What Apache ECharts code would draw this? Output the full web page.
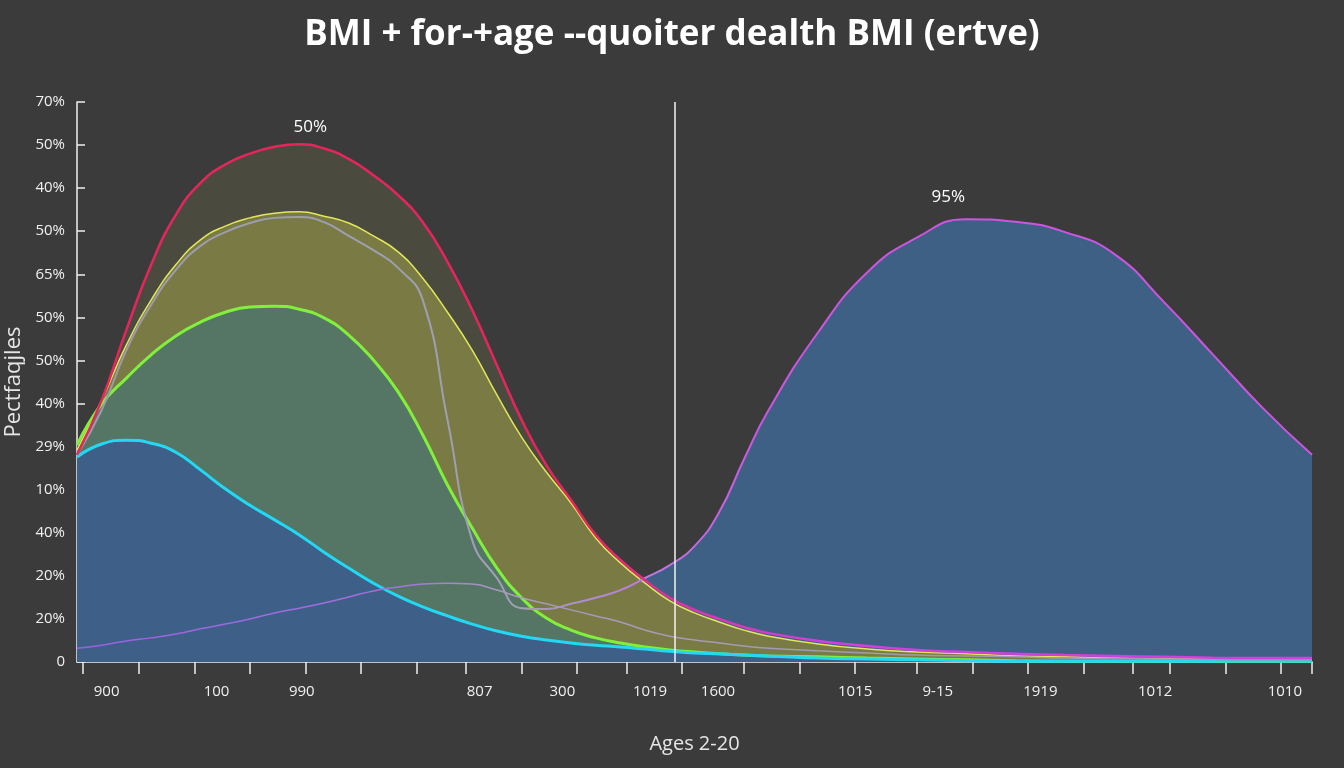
<!DOCTYPE html>
<html>
<head>
<meta charset="utf-8">
<title>BMI chart</title>
<script src="https://cdn.jsdelivr.net/npm/echarts@6/dist/echarts.min.js"></script>
<style>
  html, body { margin: 0; padding: 0; background: #3b3b3b; }
  #chart { width: 1344px; height: 768px; }
</style>
</head>
<body>
<div id="chart"></div>
<script>
// x positions (axis units 0-100) shared by every curve
const ages = [0, 2, 4, 6, 8, 10, 12, 14, 16, 18, 20, 22, 24, 26, 28, 30, 32, 34, 36, 38, 40,
  42, 44, 46, 48, 50, 52, 54, 56, 60, 64, 68, 72, 76, 80, 84, 88, 92, 96, 100];

// curve values (y units, one unit per tick)
const redVals = [4.81, 6.08, 7.71, 9.22, 10.38, 11.12, 11.55, 11.80, 11.96, 12.02, 11.92, 11.68, 11.30, 10.84, 10.21, 9.29, 8.17, 6.89, 5.62, 4.57, 3.76,
  2.95, 2.37, 1.90, 1.49, 1.21, 1.00, 0.81, 0.67, 0.49, 0.37, 0.28, 0.23, 0.19, 0.16, 0.14, 0.12, 0.10, 0.09, 0.09];
const yellowVals = [4.92, 6.08, 7.36, 8.40, 9.22, 9.80, 10.12, 10.31, 10.42, 10.45, 10.35, 10.19, 9.89, 9.52, 8.91, 8.12, 7.24, 6.20, 5.22, 4.41, 3.69,
  2.88, 2.30, 1.83, 1.42, 1.14, 0.93, 0.74, 0.60, 0.42, 0.30, 0.23, 0.19, 0.14, 0.12, 0.09, 0.08, 0.07, 0.06, 0.05];
const greenVals = [5.04, 5.99, 6.59, 7.13, 7.57, 7.89, 8.12, 8.24, 8.26, 8.19, 7.99, 7.59, 7.01, 6.27, 5.27, 4.11, 3.11, 2.18, 1.49, 1.02, 0.74,
  0.56, 0.44, 0.35, 0.28, 0.23, 0.19, 0.16, 0.14, 0.12, 0.09, 0.07, 0.05, 0.03, 0.02, 0.02, 0.02, 0.02, 0.02, 0.02];
const cyanVals = [4.76, 5.06, 5.15, 5.08, 4.87, 4.46, 4.02, 3.64, 3.30, 2.95, 2.55, 2.18, 1.83, 1.53, 1.28, 1.07, 0.88, 0.72, 0.60, 0.51, 0.44,
  0.39, 0.35, 0.30, 0.25, 0.21, 0.19, 0.16, 0.14, 0.09, 0.07, 0.05, 0.03, 0.02, 0.02, 0.02, 0.02, 0.02, 0.02, 0.02];
const bellVals = [4.81, 5.85, 7.24, 8.29, 9.10, 9.66, 9.98, 10.19, 10.31, 10.33, 10.21, 9.89, 9.56, 9.15, 8.40, 5.62, 2.83, 1.95, 1.25, 1.23, 1.35,
  1.49, 1.67, 1.95, 2.25, 2.69, 3.48, 4.70, 5.85, 7.65, 9.05, 9.85, 10.28, 10.22, 9.98, 9.47, 8.36, 7.13, 5.90, 4.81];
const purpleVals = [0.32, 0.39, 0.49, 0.56, 0.65, 0.77, 0.88, 1.00, 1.14, 1.25, 1.37, 1.51, 1.65, 1.74, 1.81, 1.83, 1.81, 1.67, 1.49, 1.35, 1.21,
  1.07, 0.93, 0.74, 0.60, 0.51, 0.44, 0.37, 0.32, 0.26, 0.21, 0.16, 0.14, 0.12, 0.09, 0.08, 0.07, 0.06, 0.05, 0.05];

// axis labels
const yTickLabels = ['0', '20%', '20%', '40%', '10%', '29%', '40%', '50%', '50%', '65%', '50%', '40%', '50%', '70%'];
const xLabels = ['900', '100', '990', '807', '300', '1019', '1600', '1015', '9-15', '1919', '1012', '1010'];
const xLabelAt = [2.4, 11.3, 18.2, 32.6, 39.3, 46.4, 51.9, 63.0, 69.7, 78.0, 87.3, 97.8];
const xTickAt = [0.5, 5, 9.5, 14, 18.5, 23, 27.5, 31.5, 36, 40.5, 44.5, 49, 54, 58.5, 63, 68, 72.5,
  77, 81.5, 85.5, 88.5, 93, 97.5, 100];
const dividerAt = 48.4;
const peakLabels = ['50%', '95%'];

const pairs = (vals) => ages.map((a, i) => [a, vals[i]]);
const hGrad = (stops) => ({ type: 'linear', x: 0, y: 0, x2: 1, y2: 0, colorStops: stops });

// peak of the right-hand bell, for its label
let bellPeak = ages.findIndex((a) => a > 50);
ages.forEach((a, i) => { if (a > 50 && bellVals[i] > bellVals[bellPeak]) bellPeak = i; });

const font = 'Open Sans';
const myChart = echarts.init(document.getElementById('chart'));

myChart.setOption({
  animation: false,
  backgroundColor: '#3b3b3b',
  title: {
    text: 'BMI + for-+age --quoiter dealth BMI (ertve)',
    left: 'center',
    top: 13,
    textStyle: { color: '#ffffff', fontSize: 35, fontWeight: 'bold', fontFamily: font }
  },
  grid: { left: 77, right: 32, top: 102, bottom: 106, outerBoundsMode: 'none' },
  xAxis: {
    type: 'value',
    min: 0,
    max: 100,
    name: 'Ages 2-20',
    nameLocation: 'middle',
    nameGap: 72,
    nameTextStyle: { color: '#e6e6e6', fontSize: 20, fontFamily: font },
    axisLine: { show: true, lineStyle: { color: '#f0f0f0', width: 1.5 } },
    axisTick: { show: true, length: 12, customValues: xTickAt, lineStyle: { color: '#f0f0f0', width: 1.5 } },
    splitLine: { show: false },
    axisLabel: {
      customValues: xLabelAt,
      margin: 22,
      color: '#f0f0f0',
      fontSize: 15,
      fontFamily: font,
      formatter: (v) => {
        const i = xLabelAt.findIndex((p) => Math.abs(p - v) < 1e-6);
        return i >= 0 ? xLabels[i] : '';
      }
    }
  },
  yAxis: {
    type: 'value',
    min: 0,
    max: 13,
    interval: 1,
    name: 'Pectfaqjles',
    nameLocation: 'middle',
    nameRotate: 90,
    nameGap: 46,
    nameTextStyle: { color: '#e6e6e6', fontSize: 22, fontFamily: font },
    axisLine: { show: true, lineStyle: { color: '#f0f0f0', width: 1.5 } },
    axisTick: { show: true, inside: true, length: 8, lineStyle: { color: '#f0f0f0', width: 1.5 } },
    splitLine: { show: false },
    axisLabel: {
      margin: 12,
      color: '#f0f0f0',
      fontSize: 15,
      fontFamily: font,
      formatter: (v) => yTickLabels[Math.round(v)]
    }
  },
  series: [
    // back to front
    {
      name: 'red area', type: 'line', smooth: 0.5, symbol: 'none',
      data: pairs(redVals),
      lineStyle: { width: 0 },
      areaStyle: { color: '#4a4b3e', opacity: 1 }
    },
    {
      name: 'bell area', type: 'line', smooth: 0.5, symbol: 'none',
      data: pairs(bellVals),
      lineStyle: { width: 0 },
      areaStyle: { color: '#3e6085', opacity: 1 }
    },
    {
      name: 'yellow', type: 'line', smooth: 0.5, symbol: 'none',
      data: pairs(yellowVals),
      lineStyle: { width: 1.5, color: '#e2e65a' },
      areaStyle: { color: '#7a7a44', opacity: 1 }
    },
    {
      name: 'green', type: 'line', smooth: 0.5, symbol: 'none',
      data: pairs(greenVals),
      lineStyle: { width: 3, color: '#80f03c' },
      areaStyle: { color: '#557665', opacity: 1 }
    },
    {
      name: 'cyan', type: 'line', smooth: 0.5, symbol: 'none',
      data: pairs(cyanVals),
      lineStyle: { width: 3, color: '#22d8f2' },
      areaStyle: { color: '#3e6088', opacity: 1 }
    },
    {
      name: 'bell', type: 'line', smooth: 0.5, symbol: 'none',
      data: pairs(bellVals),
      lineStyle: {
        width: 2,
        color: hGrad([
          { offset: 0, color: '#9a9aac' },
          { offset: 0.36, color: '#a0a0b4' },
          { offset: 0.45, color: '#b880e0' },
          { offset: 0.55, color: '#cc55e0' },
          { offset: 1, color: '#cc55e0' }
        ])
      },
      markPoint: {
        symbol: 'circle', symbolSize: 0,
        data: [{ coord: [ages[bellPeak], bellVals[bellPeak]] }],
        label: { show: true, formatter: peakLabels[1], offset: [-18, -22], color: '#ffffff', fontSize: 17, fontFamily: font }
      }
    },
    {
      name: 'purple', type: 'line', smooth: 0.5, symbol: 'none',
      data: pairs(purpleVals),
      lineStyle: {
        width: 1.5,
        color: hGrad([
          { offset: 0, color: '#9a60e0' },
          { offset: 0.25, color: '#a070dc' },
          { offset: 0.35, color: '#a49cb8' },
          { offset: 1, color: '#9c9ca8' }
        ])
      },
      markLine: {
        symbol: 'none', silent: true,
        label: { show: false },
        lineStyle: { color: '#f4f4f4', width: 1.5, type: 'solid' },
        data: [{ xAxis: dividerAt }]
      }
    },
    {
      name: 'red', type: 'line', smooth: 0.5, symbol: 'none',
      data: pairs(redVals),
      lineStyle: {
        width: 2.5,
        color: hGrad([
          { offset: 0, color: '#e8245c' },
          { offset: 0.42, color: '#e8245c' },
          { offset: 0.5, color: '#dc35b0' },
          { offset: 0.6, color: '#d040dc' },
          { offset: 1, color: '#d040dc' }
        ])
      },
      markPoint: {
        symbol: 'circle', symbolSize: 0,
        data: [{ type: 'max' }],
        label: { show: true, formatter: peakLabels[0], offset: [11, -17], color: '#ffffff', fontSize: 17, fontFamily: font }
      }
    }
  ]
});
</script>
</body>
</html>
